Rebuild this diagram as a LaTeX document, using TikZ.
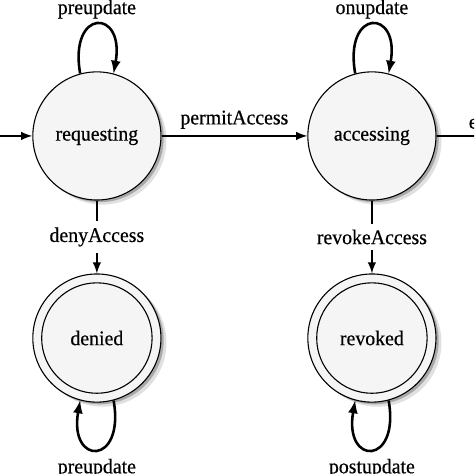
\documentclass[tikz,border=0pt]{standalone}
\usepackage{fontspec}
\setmainfont{Liberation Serif}[FakeStretch=0.95, FakeBold=0.4]
\usetikzlibrary{shadows}
\begin{document}
\begin{tikzpicture}[
  every node/.append style={font=\fontsize{11.4pt}{14pt}\selectfont},
  st/.style={draw, circle, line width=0.6pt, fill=black!4,
             minimum size=2.46cm, inner sep=0pt,
             drop shadow={shadow xshift=3pt, shadow yshift=-2.5pt,
                          fill=black, opacity=0.12},
             drop shadow={shadow xshift=1.5pt, shadow yshift=-1.2pt,
                          fill=black, opacity=0.25}},
  ring/.style={line width=0.6pt},
  arr/.style={-latex, line width=1.1pt},
  lp/.style={-latex, line width=1.4pt},
]
\useasboundingbox (0, 0) rectangle (9.1, 9.1);
\clip (0, 0) rectangle (9.1, 9.1);

% ---- States ----------------------------------------------------------------
\node[st] (req) at (1.86, 6.49) {requesting};
\node[st] (acc) at (7.14, 6.49) {accessing};
\node[st] (den) at (1.86, 2.61) {denied};
\node[st] (rev) at (7.14, 2.61) {revoked};
\draw[ring] (den) circle[radius=1.06cm];
\draw[ring] (rev) circle[radius=1.06cm];

% ---- Entry and exit --------------------------------------------------------
\coordinate (init) at (-0.8, 6.49);
\coordinate (fin) at (11.25, 6.49);
\draw[arr] (init) -- (req);
\draw[arr] (acc) -- node[above]{endAccess} (fin);

% ---- Transitions -----------------------------------------------------------
\draw[arr] (req) -- node[above]{permitAccess} (acc);
\draw[arr] (req) -- node[fill=white]{denyAccess} (den);
\draw[arr] (acc) -- node[fill=white]{revokeAccess} (rev);

% ---- Self loops ------------------------------------------------------------
\draw[lp] (req.105) to[out=100, in=80, looseness=5.1]
  node[above, inner sep=2.5pt]{preupdate} (req.75);
\draw[lp] (acc.105) to[out=100, in=80, looseness=5.1]
  node[above, inner sep=2.5pt]{onupdate} (acc.75);
\draw[lp] (den.-75) to[out=-80, in=-100, looseness=5.1]
  node[below=1pt]{preupdate} (den.-105);
\draw[lp] (rev.-75) to[out=-80, in=-100, looseness=5.1]
  node[below=1pt]{postupdate} (rev.-105);

\end{tikzpicture}
\end{document}
